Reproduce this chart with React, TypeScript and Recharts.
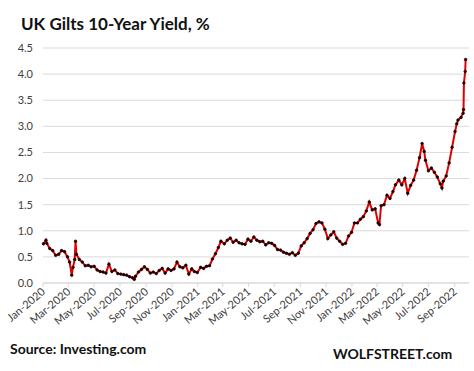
import { LineChart, Line, XAxis, YAxis, CartesianGrid } from 'recharts';

// weekly-ish closes, UK 10y gilt yield in %
const dates = [
  '2020-01-02', '2020-01-08', '2020-01-10', '2020-01-17', '2020-01-24', '2020-01-31',
  '2020-02-07', '2020-02-14', '2020-02-21', '2020-02-28', '2020-03-04', '2020-03-09',
  '2020-03-12', '2020-03-16', '2020-03-18', '2020-03-20', '2020-03-27', '2020-04-03',
  '2020-04-10', '2020-04-17', '2020-04-24', '2020-05-01', '2020-05-08', '2020-05-15',
  '2020-05-22', '2020-05-29', '2020-06-05', '2020-06-12', '2020-06-19', '2020-06-26',
  '2020-07-03', '2020-07-10', '2020-07-17', '2020-07-24', '2020-07-31', '2020-08-04',
  '2020-08-07', '2020-08-14', '2020-08-21', '2020-08-28', '2020-09-04', '2020-09-11',
  '2020-09-18', '2020-09-25', '2020-10-02', '2020-10-09', '2020-10-16', '2020-10-23',
  '2020-10-30', '2020-11-06', '2020-11-13', '2020-11-20', '2020-11-27', '2020-12-04',
  '2020-12-11', '2020-12-18', '2020-12-24', '2020-12-31',
  '2021-01-08', '2021-01-15', '2021-01-22', '2021-01-29', '2021-02-05', '2021-02-12',
  '2021-02-19', '2021-02-25', '2021-03-05', '2021-03-12', '2021-03-19', '2021-03-26',
  '2021-04-02', '2021-04-09', '2021-04-16', '2021-04-23', '2021-04-30', '2021-05-07',
  '2021-05-14', '2021-05-21', '2021-05-28', '2021-06-04', '2021-06-11', '2021-06-18',
  '2021-06-25', '2021-07-02', '2021-07-09', '2021-07-16', '2021-07-23', '2021-07-30',
  '2021-08-06', '2021-08-13', '2021-08-20', '2021-08-27', '2021-09-03', '2021-09-10',
  '2021-09-17', '2021-09-24', '2021-10-01', '2021-10-08', '2021-10-15', '2021-10-22',
  '2021-10-29', '2021-11-05', '2021-11-12', '2021-11-19', '2021-11-26', '2021-12-03',
  '2021-12-10', '2021-12-17', '2021-12-24', '2021-12-31',
  '2022-01-07', '2022-01-14', '2022-01-21', '2022-01-28', '2022-02-04', '2022-02-11',
  '2022-02-18', '2022-02-25', '2022-03-04', '2022-03-07', '2022-03-11', '2022-03-18',
  '2022-03-25', '2022-04-01', '2022-04-08', '2022-04-14', '2022-04-22', '2022-04-29',
  '2022-05-06', '2022-05-13', '2022-05-20', '2022-05-27', '2022-06-03', '2022-06-10',
  '2022-06-16', '2022-06-21', '2022-06-24', '2022-07-01', '2022-07-08', '2022-07-15',
  '2022-07-22', '2022-07-29', '2022-08-02', '2022-08-05', '2022-08-12', '2022-08-19',
  '2022-08-26', '2022-09-02', '2022-09-06', '2022-09-09', '2022-09-16', '2022-09-21',
  '2022-09-22', '2022-09-23', '2022-09-26', '2022-09-27',
];

const yields = [
  0.75, 0.82, 0.76, 0.66, 0.62, 0.53,
  0.55, 0.62, 0.6, 0.5, 0.4, 0.15,
  0.3, 0.45, 0.8, 0.55, 0.45, 0.4,
  0.33, 0.34, 0.31, 0.32, 0.25, 0.22,
  0.21, 0.19, 0.36, 0.22, 0.25, 0.18,
  0.17, 0.16, 0.15, 0.12, 0.1, 0.07,
  0.13, 0.21, 0.26, 0.31, 0.26, 0.19,
  0.21, 0.18, 0.24, 0.28, 0.19, 0.27,
  0.24, 0.27, 0.4, 0.31, 0.29, 0.34,
  0.17, 0.27, 0.22, 0.2,
  0.3, 0.28, 0.32, 0.33, 0.46, 0.56,
  0.68, 0.8, 0.75, 0.82, 0.86, 0.78,
  0.82, 0.77, 0.75, 0.74, 0.84, 0.8,
  0.88, 0.82, 0.79, 0.8, 0.73, 0.77,
  0.76, 0.72, 0.64, 0.63, 0.59, 0.57,
  0.55, 0.58, 0.53, 0.57, 0.71, 0.77,
  0.85, 0.95, 1.02, 1.14, 1.17, 1.15,
  1.03, 0.85, 0.92, 0.98, 0.86, 0.8,
  0.74, 0.76, 0.9, 0.97,
  1.15, 1.15, 1.22, 1.27, 1.38, 1.55,
  1.4, 1.42, 1.15, 1.12, 1.48, 1.5,
  1.68, 1.62, 1.75, 1.88, 1.97, 1.88,
  2.0, 1.72, 1.87, 1.97, 2.16, 2.4,
  2.67, 2.52, 2.35, 2.15, 2.2, 2.12,
  2.03, 1.9, 1.82, 1.95, 2.05, 2.3,
  2.6, 2.9, 3.05, 3.12, 3.17, 3.25,
  3.32, 3.83, 4.05, 4.28,
];

const tickDates = [
  '2020-01-01', '2020-03-01', '2020-05-01', '2020-07-01', '2020-09-01', '2020-11-01',
  '2021-01-01', '2021-03-01', '2021-05-01', '2021-07-01', '2021-09-01', '2021-11-01',
  '2022-01-01', '2022-03-01', '2022-05-01', '2022-07-01', '2022-09-01',
];
const yTicks = [0, 0.5, 1, 1.5, 2, 2.5, 3, 3.5, 4, 4.5];

const MONTHS = ['Jan', 'Feb', 'Mar', 'Apr', 'May', 'Jun', 'Jul', 'Aug', 'Sep', 'Oct', 'Nov', 'Dec'];
const toTime = (s: string) => new Date(s + 'T00:00:00Z').getTime();
const fmtMonth = (t: number) => {
  const d = new Date(t);
  return `${MONTHS[d.getUTCMonth()]}-${d.getUTCFullYear()}`;
};

const data = dates.map((d, i) => ({ t: toTime(d), v: yields[i] }));
const xTicks = tickDates.map(toTime);

const FONT = 'Lato, "Open Sans", sans-serif';

function XTick({ x, y, payload }: any) {
  return (
    <text
      x={x + 3}
      y={y + 4}
      transform={`rotate(-40 ${x + 3} ${y + 4})`}
      textAnchor="end"
      fontSize={11}
      fill="#404040"
      fontFamily={FONT}
    >
      {fmtMonth(payload.value)}
    </text>
  );
}

export default function App() {
  return (
    <div style={{ position: 'absolute', left: 0, top: 0, width: 474, height: 371, background: '#fff', fontFamily: FONT }}>
      <div style={{ position: 'absolute', left: 21, top: 13, fontSize: 17, fontWeight: 700, color: '#111' }}>
        UK Gilts 10-Year Yield, %
      </div>
      <LineChart width={474} height={371} data={data} margin={{ top: 48, right: 5, bottom: 0, left: 0 }}>
        <CartesianGrid vertical={false} stroke="#d9d9d9" />
        <XAxis
          dataKey="t"
          type="number"
          scale="time"
          domain={[toTime('2020-01-01'), toTime('2022-10-05')]}
          ticks={xTicks}
          tick={<XTick />}
          height={88}
          tickSize={4}
          interval={0}
          axisLine={{ stroke: '#d9d9d9' }}
          tickLine={{ stroke: '#d9d9d9' }}
        />
        <YAxis
          domain={[0, 4.5]}
          ticks={yTicks}
          width={43}
          axisLine={false}
          tickLine={false}
          tickMargin={4}
          tickFormatter={(v: number) => v.toFixed(1)}
          tick={{ fontSize: 11, fill: '#404040', fontFamily: FONT }}
        />
        <Line
          type="linear"
          dataKey="v"
          stroke="#e00000"
          strokeWidth={2}
          dot={{ r: 1.3, fill: '#1a0000', stroke: '#1a0000', strokeWidth: 0.7 }}
          activeDot={false}
          isAnimationActive={false}
        />
      </LineChart>
      <div style={{ position: 'absolute', left: 10, top: 340, fontSize: 14, fontWeight: 700, color: '#111' }}>
        Source: Investing.com
      </div>
      <div style={{ position: 'absolute', left: 333, top: 345, fontSize: 14, fontWeight: 700, color: '#111' }}>
        WOLFSTREET.com
      </div>
    </div>
  );
}
